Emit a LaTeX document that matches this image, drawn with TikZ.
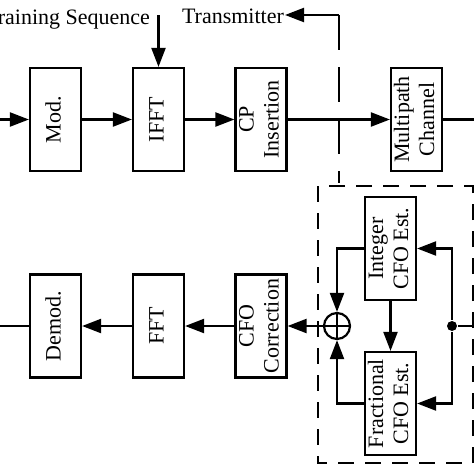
\documentclass[tikz,border=0pt]{standalone}
\usepackage{fontspec}
\setmainfont{Liberation Serif}
\usetikzlibrary{arrows.meta}
\newcommand{\vtext}[1]{\rotatebox{90}{\begin{tabular}{@{}c@{}}#1\end{tabular}}}
\begin{document}
\begin{tikzpicture}[x=1pt,y=-1pt,
  every node/.style={font=\fontsize{22}{25}\selectfont},
  line width=2.2pt,
  blk/.style={draw,rectangle,minimum width=51pt,minimum height=103pt,inner sep=0pt},
  arr/.style={-{Triangle[length=19pt,width=14pt]}},
  txt/.style={inner sep=0pt},
  sumnode/.style={draw,circle,minimum size=26pt,inner sep=0pt},
  dotnode/.style={fill,circle,minimum size=10pt,inner sep=0pt},
  vdash/.style={dash pattern=on 35pt off 17pt},
  boxdash/.style={dash pattern=on 16pt off 11pt}]
\useasboundingbox (0,0) rectangle (474,474);

% top row
\node[blk] (mod)  at (55.5,119.5)  {\vtext{Mod.}};
\node[blk] (ifft) at (158.5,119.5) {\vtext{IFFT}};
\node[blk] (cp)   at (261,119.5)   {\vtext{CP\\Insertion}};
\node[blk] (mp)   at (416.5,119.5) {\vtext{Multipath\\Channel}};

% bottom row
\node[blk] (demod) at (55.5,326)  {\vtext{Demod.}};
\node[blk] (fft)   at (158.5,326) {\vtext{FFT}};
\node[blk] (cfoc)  at (261,326)   {\vtext{CFO\\Correction}};
\node[blk] (int)   at (390.5,248.5) {\vtext{Integer\\CFO Est.}};
\node[blk] (frac)  at (390.5,403.5) {\vtext{Fractional\\CFO Est.}};
\node[sumnode] (sum) at (337,326) {};
\node[dotnode] (dot) at (452,326) {};

% labels
\node[txt,anchor=base east] (ts) at (151,24) {Training Sequence};
\node[txt,anchor=base east] (tx) at (285,23) {Transmitter};

% coordinates
\coordinate (inL) at (0,119.5);
\coordinate (outR) at (474,119.5);
\coordinate (tsc) at (158.5,15);
\coordinate (c1) at (339,15);
\coordinate (c2) at (339,183);
\coordinate (outL) at (0,326);
\coordinate (inR) at (474,326);

% top connectors
\draw[arr] (inL) -- (mod);
\draw[arr] (mod) -- (ifft);
\draw[arr] (ifft) -- (cp);
\draw[arr] (cp) -- (mp);
\draw (mp) -- (outR);
\draw[arr] (tsc) -- (ifft.north);
\draw[arr] (c1) -- (c1 -| tx.east);
\draw[vdash] (c1) -- (c2);

% dashed receiver box
\draw[boxdash] (318,186) rectangle (473,463);

% bottom connectors
\draw (demod) -- (outL);
\draw[arr] (fft) -- (demod);
\draw[arr] (cfoc) -- (fft);
\draw[arr] (sum) -- (cfoc);
\draw (sum.north) -- (sum.south) (sum.west) -- (sum.east);
\draw[arr] (int.west) -| (sum.north);
\draw[arr] (frac.west) -| (sum.south);
\draw[arr] (int.south) -- (frac.north);
\draw (inR) -- (dot);
\draw[arr] (dot) |- (int.east);
\draw[arr] (dot) |- (frac.east);
\end{tikzpicture}
\end{document}
